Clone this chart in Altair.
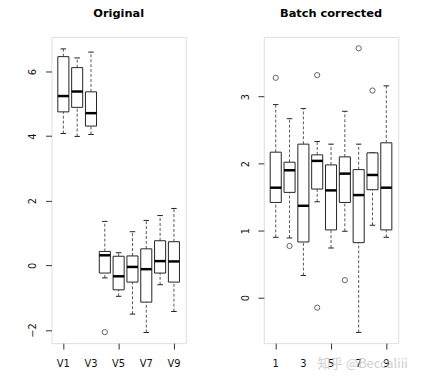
import altair as alt
import pandas as pd

# ---- data ----
positions = [1, 2, 3, 4, 5, 6, 7, 8, 9]
label_pos = [1, 3, 5, 7, 9]
orig_xlabels = ["V1", "V3", "V5", "V7", "V9"]
bc_xlabels = ["1", "3", "5", "7", "9"]

orig_lo  = [4.08, 3.99, 4.05, -0.39, -0.96, -1.51, -2.08, -0.60, -1.43]
orig_q1  = [4.75, 4.89, 4.31, -0.24, -0.76, -0.52, -1.14, -0.24, -0.52]
orig_med = [5.24, 5.38, 4.71, 0.31, -0.34, -0.05, -0.12, 0.13, 0.12]
orig_q3  = [6.46, 6.12, 5.37, 0.43, 0.28, 0.29, 0.51, 0.76, 0.73]
orig_hi  = [6.70, 6.42, 6.60, 1.36, 0.39, 1.04, 1.39, 1.54, 1.76]
orig_out_x = [4]
orig_out_y = [-2.07]

bc_lo  = [0.90, 0.89, 0.33, 1.43, 0.74, 0.99, -0.52, 1.08, 0.90]
bc_q1  = [1.42, 1.57, 0.83, 1.62, 1.01, 1.42, 0.82, 1.61, 1.01]
bc_med = [1.64, 1.90, 1.37, 2.04, 1.60, 1.85, 1.53, 1.83, 1.64]
bc_q3  = [2.17, 2.02, 2.29, 2.13, 1.98, 2.10, 1.91, 2.16, 2.31]
bc_hi  = [2.88, 2.67, 2.82, 2.33, 2.29, 2.78, 2.29, 2.16, 3.16]
bc_out_x = [1, 2, 4, 4, 6, 7, 8]
bc_out_y = [3.28, 0.77, 3.32, -0.15, 0.26, 3.72, 3.09]

orig_yticks = [-2, 0, 2, 4, 6]
bc_yticks = [0, 1, 2, 3]

FONT = "DejaVu Sans"
W, H = 136, 310


def panel(title, lo, q1, med, q3, hi, ox, oy, ydom, yticks, xlabels, watermark=False):
    df = pd.DataFrame({"pos": positions, "lo": lo, "q1": q1, "med": med, "q3": q3, "hi": hi})
    dout = pd.DataFrame({"pos": ox, "val": oy})
    dlab = pd.DataFrame({"pos": label_pos, "lab": xlabels})
    xscale = alt.Scale(domain=[0.14, 9.86], nice=False, zero=False)
    yscale = alt.Scale(domain=ydom, nice=False, zero=False)
    xaxis = alt.Axis(values=positions, labels=False, grid=False, domain=False,
                     tickSize=6, tickColor="#333", title=None)
    yaxis = alt.Axis(values=yticks, format="d", grid=False, domain=False, tickSize=6,
                     tickColor="#333", labelAngle=270, labelAlign="center",
                     labelBaseline="bottom", labelOverlap=False,
                     labelFontSize=10, labelColor="#111", labelFont=FONT, labelPadding=8,
                     title=None)

    base = alt.Chart(df).transform_calculate(
        xl="datum.pos - 0.4", xr="datum.pos + 0.4",
        sl="datum.pos - 0.2", sr="datum.pos + 0.2")

    whisk_lo = base.mark_rule(color="#555", strokeDash=[3, 2], strokeWidth=1).encode(
        x=alt.X("pos:Q", scale=xscale, axis=xaxis),
        y=alt.Y("lo:Q", scale=yscale, axis=yaxis), y2="q1:Q")
    whisk_hi = base.mark_rule(color="#555", strokeDash=[3, 2], strokeWidth=1).encode(
        x="pos:Q", y="q3:Q", y2="hi:Q")
    staple_lo = base.mark_rule(color="#222", strokeWidth=1).encode(
        x="sl:Q", x2="sr:Q", y="lo:Q")
    staple_hi = base.mark_rule(color="#222", strokeWidth=1).encode(
        x="sl:Q", x2="sr:Q", y="hi:Q")
    box = base.mark_rect(fill="white", stroke="#222", strokeWidth=1).encode(
        x="xl:Q", x2="xr:Q", y="q1:Q", y2="q3:Q")
    median = base.mark_rule(color="black", strokeWidth=2.5).encode(
        x="xl:Q", x2="xr:Q", y="med:Q")
    outl = alt.Chart(dout).mark_point(shape="circle", filled=False, color="#222",
                                      size=28, strokeWidth=1).encode(
        x="pos:Q", y="val:Q")
    xlab = alt.Chart(dlab).mark_text(font=FONT, fontSize=10, color="#111",
                                     align="center", baseline="middle").encode(
        x="pos:Q", y=alt.value(H + 21), text="lab:N")
    ttl = alt.Chart(pd.DataFrame({"t": [title]})).mark_text(
        font=FONT, fontSize=11.5, fontWeight="bold", color="black",
        align="center", baseline="middle").encode(
        x=alt.value(W / 2), y=alt.value(-23), text="t:N")
    layers = [whisk_lo, whisk_hi, staple_lo, staple_hi, box, median, outl, xlab, ttl]
    if watermark:
        wm = alt.Chart(pd.DataFrame({"t": ["知乎 @Beccaliii"]})).mark_text(
            font="Noto Sans CJK SC", fontSize=13, color="#c8c8c8", opacity=0.85,
            align="center", baseline="middle").encode(
            text="t:N", x=alt.value(100), y=alt.value(H + 21))
        layers.append(wm)
    return alt.layer(*layers).properties(width=W, height=H)


left = panel("Original", orig_lo, orig_q1, orig_med, orig_q3, orig_hi,
             orig_out_x, orig_out_y, [-2.41, 7.07], orig_yticks, orig_xlabels)
right = panel("Batch corrected", bc_lo, bc_q1, bc_med, bc_q3, bc_hi,
              bc_out_x, bc_out_y, [-0.68, 3.89], bc_yticks, bc_xlabels, watermark=True)

chart = alt.hconcat(left, right, spacing=53).properties(
    padding={"left": 19, "top": -3, "right": 5, "bottom": 5}
).configure_view(stroke="#555", strokeWidth=1).configure(background="white")

chart.save("out.html", embed_options={"renderer": "svg", "actions": False})
